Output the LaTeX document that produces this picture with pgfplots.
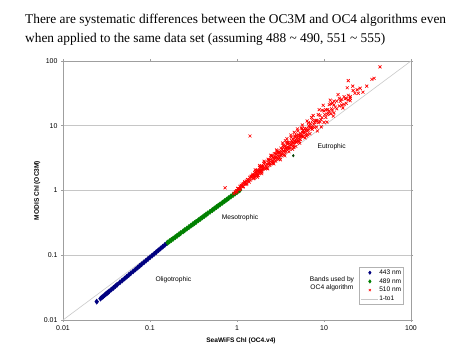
\documentclass[border=0pt]{standalone}
\usepackage{pgfplots}
\pgfplotsset{compat=1.18}
\usepackage{fontspec}
\setmainfont{Liberation Serif}
\newfontfamily\arial{Liberation Sans}
\definecolor{navy}{RGB}{0,0,128}
\definecolor{dgreen}{RGB}{0,128,0}
\definecolor{gline}{RGB}{200,200,200}
\begin{document}
\begin{tikzpicture}
\useasboundingbox (0,0) rectangle (474bp,355bp);
\node[anchor=base west, inner sep=0, font=\fontsize{13.4}{16}\selectfont] at (25bp,331.7bp) {There are systematic differences between the OC3M and OC4 algorithms even};
\node[anchor=base west, inner sep=0, font=\fontsize{13.4}{16}\selectfont] at (25bp,312.3bp) {when applied to the same data set (assuming 488 \textasciitilde{} 490, 551 \textasciitilde{} 555)};
\begin{axis}[
  at={(63bp,35bp)}, anchor=south west,
  scale only axis, width=348bp, height=259bp,
  xmode=log, ymode=log,
  xmin=0.01, xmax=100, ymin=0.01, ymax=100,
  xtick={0.01,0.1,1,10,100}, xticklabels={0.01,0.1,1,10,100},
  ytick={0.01,0.1,1,10,100}, yticklabels={0.01,0.1,1,10,100},
  xminorticks=false, yminorticks=false,
  axis line style={draw=gray!75, line width=0.8bp},
  tick style={draw=gray!75, line width=0.6bp},
  tick align=outside, major tick length=2bp,
  ymajorgrids, grid style={gray!45, line width=0.6bp},
  ticklabel style={font=\arial\fontsize{7}{8}\selectfont},
  /pgf/number format/assume math mode=true,
  xlabel={SeaWiFS Chl (OC4.v4)}, ylabel={MODIS Chl (OC3M)},
  label style={font=\arial\bfseries\fontsize{6.6}{8}\selectfont},
  xlabel style={at={(axis description cs:0.5115,-0.081)}, anchor=center},
  ylabel style={at={(axis description cs:-0.0739,0.5)}, anchor=center},
  legend style={at={(rel axis cs:0.8506,0.2046)}, anchor=north west,
    draw=gray!60, line width=0.5bp, font=\arial\fontsize{6.6}{8}\selectfont,
    inner sep=1.8bp, row sep=1.4bp,
    nodes={inner sep=0.6bp, text height=4.8bp, text depth=1.3bp}},
  legend cell align=left,
  clip=true,
]
\addplot[gline, line width=0.6bp, forget plot] coordinates {(0.01,0.01) (100,100)};
\addplot[only marks, mark=diamond*, mark size=2.6bp, color=navy,
  legend image code/.code={\draw[mark size=1.7bp, mark=diamond*] plot coordinates {(0.3cm,0cm)};}] coordinates {
(0.0244,0.0192)
(0.027,0.0214) (0.028,0.0223) (0.029,0.0232) (0.030,0.0241) (0.031,0.0250) (0.032,0.0259)
(0.033,0.0268) (0.034,0.0278) (0.036,0.0296) (0.038,0.0314) (0.040,0.0333) (0.042,0.0352)
(0.045,0.0380) (0.048,0.0409) (0.051,0.0437) (0.054,0.0466) (0.057,0.0495) (0.060,0.0525)
(0.064,0.0564) (0.068,0.0603) (0.072,0.0643) (0.076,0.0684) (0.080,0.0724) (0.085,0.0775)
(0.090,0.0826) (0.095,0.0878) (0.100,0.0930) (0.106,0.0992) (0.112,0.1055) (0.118,0.1119)
(0.125,0.1194) (0.132,0.1269) (0.140,0.1355) (0.148,0.1442) (0.156,0.1530)
};
\addlegendentry{443 nm}
\addplot[only marks, mark=diamond*, mark size=2.7bp, color=dgreen,
  legend image code/.code={\draw[mark size=1.7bp, mark=diamond*] plot coordinates {(0.3cm,0cm)};}] coordinates {
(0.160,0.1570) (0.168,0.1647) (0.176,0.1724) (0.185,0.1810) (0.195,0.1906) (0.205,0.2002)
(0.215,0.2097) (0.225,0.2193) (0.240,0.2336) (0.250,0.2432) (0.265,0.2574) (0.280,0.2717)
(0.295,0.2860) (0.310,0.3002) (0.325,0.3144) (0.340,0.3287) (0.360,0.3476) (0.380,0.3665)
(0.400,0.3854) (0.420,0.4043) (0.440,0.4231) (0.460,0.4420) (0.490,0.4702) (0.520,0.4984)
(0.550,0.5266) (0.580,0.5547) (0.610,0.5828) (0.640,0.6109) (0.680,0.6483) (0.720,0.6856)
(0.760,0.7229) (0.800,0.7602) (0.850,0.8067) (0.900,0.8532) (0.950,0.8996) (1.000,0.9460)
(1.050,0.9923) (1.080,1.020)
};
\addlegendentry{489 nm}
\addplot[only marks, mark=x, mark size=2.1bp, color=red, mark options={line width=0.65bp},
  legend image code/.code={\draw[mark size=1.5bp, mark=x, mark options={line width=0.5bp}] plot coordinates {(0.3cm,0cm)};}] coordinates {
(0.92,0.90) (0.95,0.94) (0.97,0.95) (0.99,0.99)
(1.00,0.97) (1.03,1.08) (1.06,1.06) (1.08,1.16) (1.10,1.06) (1.13,1.17) (1.15,1.26) (1.18,1.16)
(1.20,1.27) (1.23,1.37) (1.25,1.27) (1.28,1.40) (1.30,1.27) (1.33,1.47) (1.36,1.44) (1.40,1.60)
(1.43,1.45) (1.46,1.61) (1.50,1.71)
(1.02,1.07) (1.07,1.03) (1.12,1.20) (1.17,1.13) (1.22,1.33) (1.27,1.24) (1.32,1.47) (1.38,1.35)
(1.45,1.66)
(1.55,1.52) (1.6,1.89) (1.65,1.71) (1.7,2.06) (1.75,1.71) (1.8,2.06) (1.85,2.31) (1.9,1.95)
(1.95,2.33) (2.0,2.15) (2.1,2.70) (2.2,2.25) (2.3,2.89) (2.4,2.60) (2.5,3.36) (2.6,2.70)
(2.7,3.32) (2.8,3.69) (2.9,3.13) (3.0,3.89)
(1.55,1.72) (1.6,1.61) (1.65,1.94) (1.7,1.82) (1.75,2.02) (1.8,1.87) (1.85,2.05) (1.9,2.34)
(1.95,2.09) (2.0,2.37) (2.1,2.18) (2.2,2.57) (2.3,2.55) (2.4,3.01) (2.5,2.70) (2.6,3.24)
(2.7,3.01) (2.8,3.33) (2.9,3.88) (3.0,3.36)
(1.58,1.69) (1.68,1.82) (1.78,1.94) (1.88,2.07) (1.98,2.19) (2.15,2.41) (2.35,2.67) (2.55,2.93)
(2.75,3.20) (2.95,3.47)
(1.62,2.09) (1.72,1.61) (1.82,2.43) (1.92,1.82) (2.05,2.83) (2.25,2.16) (2.45,3.50) (2.65,2.58)
(2.85,4.23)
(1.52,1.78) (1.57,1.56) (1.63,1.96) (1.73,1.73) (1.83,2.26) (1.93,1.94) (2.03,2.62) (2.18,2.21)
(2.28,3.04) (2.38,2.44) (2.48,3.41) (2.58,2.61) (2.68,3.73) (2.78,2.85) (2.88,4.11) (2.98,3.02)
(3.1,3.23) (3.2,4.50) (3.3,3.63) (3.4,4.98) (3.5,3.59) (3.6,4.89) (3.7,5.63) (3.8,4.18)
(3.9,5.50) (4.0,4.68) (4.2,6.67) (4.4,4.78) (4.6,6.94) (4.8,5.65) (5.0,8.28) (5.2,5.73)
(5.4,7.65) (5.6,8.99) (5.8,6.87) (6.0,9.11) (6.3,6.97) (6.6,11.13) (7.0,9.09) (7.4,12.09)
(7.8,9.44)
(3.1,3.86) (3.2,3.54) (3.3,4.34) (3.4,4.00) (3.5,4.82) (3.6,4.19) (3.7,4.59) (3.8,5.53)
(3.9,4.50) (4.0,5.32) (4.2,5.05) (4.4,6.20) (4.6,5.72) (4.8,7.10) (5.0,5.86) (5.2,7.13)
(5.4,7.02) (5.6,6.89) (5.8,8.46) (6.0,8.09) (6.3,9.05) (6.6,8.58) (7.0,10.78) (7.4,9.39)
(7.8,11.25)
(3.6,5.89) (4.5,4.62) (5.5,9.23) (6.5,7.32) (7.2,13.4)
(3.25,3.96) (3.45,4.07) (3.65,4.56) (3.85,4.66) (4.1,5.12) (4.3,5.56) (4.5,5.47) (4.7,6.05)
(4.9,6.53) (5.1,6.38) (5.3,7.01) (5.5,6.82) (5.7,7.84) (5.9,7.70) (6.15,8.40) (6.45,8.27)
(6.8,9.51) (7.2,9.58) (7.6,10.61)
(3.05,3.96) (3.22,3.46) (3.42,4.60) (3.62,3.95) (3.82,5.23) (4.05,4.50) (4.25,5.91) (4.45,5.01)
(4.65,6.62) (4.85,5.53) (5.05,7.28) (5.35,6.19) (5.75,8.38) (6.2,7.34) (6.7,9.98) (7.3,8.85)
(7.9,12.06)
(3.15,2.99) (3.35,5.42) (3.55,3.43) (3.75,6.31) (3.95,3.98) (4.15,7.20) (4.35,4.34) (4.55,7.88)
(4.75,4.80) (4.95,8.93) (5.25,5.38) (5.65,10.26) (6.05,6.50) (6.4,11.83) (6.9,7.54) (7.5,14.4)
(8.2,9.55) (8.6,14.85) (9.0,11.51) (9.5,17.32) (10,11.30) (10.5,17.63) (11,14.97) (11.5,21.24)
(12,15.34) (12.5,22.28) (13,15.85) (14,23.92) (15,20.25) (16,25.46) (17,21.32) (18,26.38)
(19,25.12) (20,24.41)
(8.2,12.14) (8.6,11.17) (9.0,14.39) (9.5,13.32) (10,16.96) (10.5,13.45) (11,17.65) (11.5,16.92)
(12,21.79) (12.5,17.53) (13,21.01) (14,18.30) (15,26.55) (16,20.86) (17,28.08) (18,22.22)
(19,29.55) (20,28.17)
(8.4,11.8) (9.2,12.5) (10.2,14.9) (11.2,15.6) (12.2,18.3) (13.5,19.4) (15.5,24.0) (17.5,26.0)
(8.4,8.32) (8.8,17.7) (9.3,9.6) (9.8,20.7) (10.8,11.4) (11.8,24.8) (12.8,14.1) (14.5,30.3)
(16.5,18.8) (18.5,38.6)
(19,49.7) (21.4,41) (21.6,35) (22.7,31.7) (20,26.6) (24.8,31.7) (31,41) (37.6,54) (35.5,52)
(44,81) (24,36) (13,24) (26,38) (28,33)
(1.41,6.95) (0.73,1.1)
};
\addlegendentry{510 nm}
\addplot[only marks, mark=diamond*, mark size=1.3bp, color=dgreen!50!black, forget plot] coordinates {(4.44,3.45)};
\addlegendimage{gline, line width=0.6bp}
\addlegendentry{1-to1}
\node[font=\arial\fontsize{6.7}{8}\selectfont] at (rel axis cs:0.772,0.667) {Eutrophic};
\node[font=\arial\fontsize{6.7}{8}\selectfont] at (rel axis cs:0.5086,0.395) {Mesotrophic};
\node[font=\arial\fontsize{6.7}{8}\selectfont] at (rel axis cs:0.317,0.157) {Oligotrophic};
\node[font=\arial\fontsize{6.7}{8.2}\selectfont, align=center] at (rel axis cs:0.773,0.139) {Bands used by\\OC4 algorithm};
\end{axis}
\end{tikzpicture}
\end{document}
